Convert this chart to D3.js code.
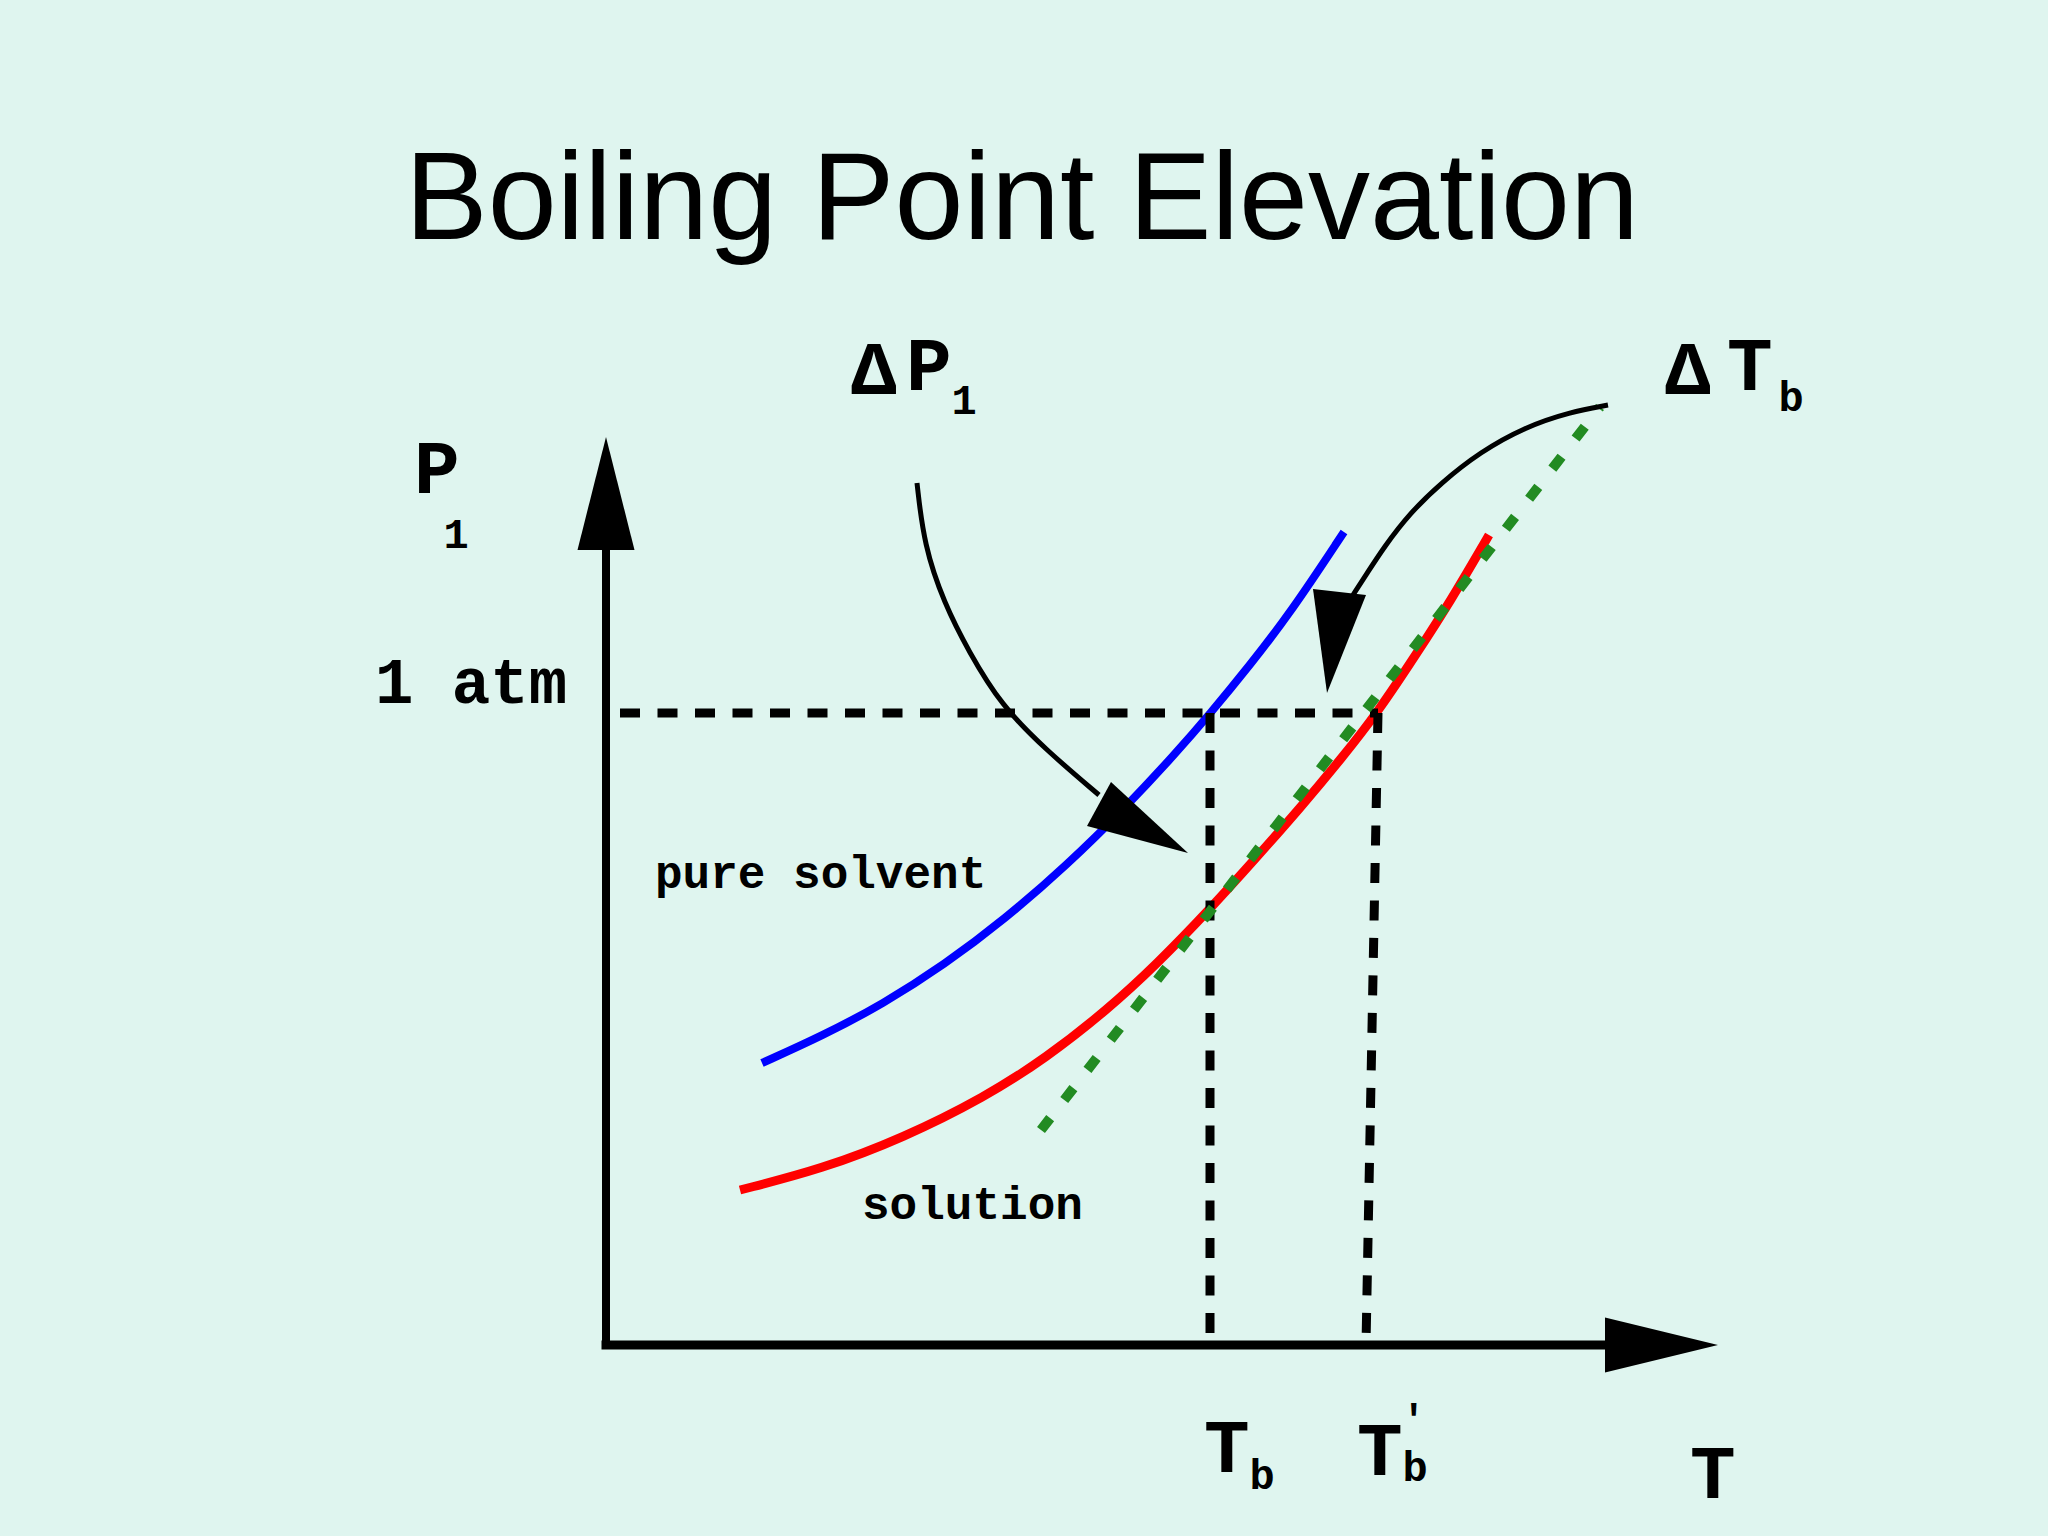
<!DOCTYPE html>
<html>
<head>
<meta charset="utf-8">
<script src="https://cdn.jsdelivr.net/npm/d3@7"></script>
<style>
  body { margin: 0; background: #dff5ef; }
  svg { display: block; }
  .lbl { font-family: "Liberation Mono", "DejaVu Sans Mono", monospace; font-weight: bold; fill: #000; }
</style>
</head>
<body>
<div id="chart"></div>
<script>
// --- Data: temperature (T) and vapour pressure (P) in arbitrary units ---
const pureSolventT = [15.6, 21.6, 27.7, 33.8, 39.9, 46.1, 52.0, 57.0, 60.3, 64.4, 68.5, 73.8];
const pureSolventP = [28.2, 30.9, 34.1, 38.0, 42.6, 48.0, 53.8, 59.2, 63.0, 68.0, 73.3, 81.3];

const solutionT = [13.4, 21.6, 29.7, 37.9, 44.0, 50.1, 55.0, 60.5, 65.0, 69.5, 73.5, 77.2, 81.1, 84.4, 88.3];
const solutionP = [15.5, 17.6, 20.7, 24.8, 28.7, 33.5, 38.0, 43.7, 48.7, 53.8, 58.6, 63.3, 69.2, 74.3, 81.0];

// green dotted guide along the solution curve
const tangentT = [43.5, 99.4];
const tangentP = [21.5, 93.8];

// reference levels
const oneAtm = 63.2;
const guideStartT = 1.4;
const boilT = 60.4;                 // T_b
const boilTPrime = [77.2, 76.0];    // T_b' guide (top, bottom)

// curved annotation arrows
const deltaPArrowT = [31.1, 31.8, 33.8, 36.3, 39.5, 44.0, 49.3];
const deltaPArrowP = [86.2, 80.0, 74.2, 69.3, 64.0, 59.5, 55.0];
const deltaPHeadT = [50.5, 48.1, 58.2];
const deltaPHeadP = [56.3, 51.9, 49.2];

const deltaTArrowT = [100.2, 96.4, 91.9, 87.4, 83.5, 80.4, 77.8, 76.0, 74.7];
const deltaTArrowP = [94.0, 93.3, 91.8, 89.3, 86.2, 83.2, 79.8, 77.0, 75.0];
const deltaTHeadT = [70.7, 76.0, 72.1];
const deltaTHeadP = [75.6, 75.0, 65.2];

// axis extents: line end and arrow tip
const yAxisEnd = [79.5, 90.8];
const xAxisEnd = [99.9, 111.2];

const width = 2048, height = 1536;

const svg = d3.select("#chart")
  .append("svg")
  .attr("width", width)
  .attr("height", height);

// Scales
const x = d3.scaleLinear().domain([0, 100]).range([606, 1606]);
const y = d3.scaleLinear().domain([0, 100]).range([1345, 345]);

const zip = (a, b) => a.map((v, i) => [v, b[i]]);

const line = d3.line()
  .x(d => x(d[0]))
  .y(d => y(d[1]))
  .curve(d3.curveBasis);

const straight = d3.line()
  .x(d => x(d[0]))
  .y(d => y(d[1]));

// Title
svg.append("text")
  .attr("x", 1022)
  .attr("y", 239)
  .attr("text-anchor", "middle")
  .style("font-family", "'Liberation Sans', Arial, sans-serif")
  .style("font-size", "124px")
  .text("Boiling Point Elevation");

// Axes with arrow heads
svg.append("path")
  .attr("d", straight([[0, 0], [0, yAxisEnd[0]]]))
  .attr("stroke", "#000")
  .attr("stroke-linecap", "square")
  .attr("stroke-width", 8);

svg.append("path")
  .attr("d", `M${x(0) - 28.5},${y(yAxisEnd[0])}L${x(0) + 28.5},${y(yAxisEnd[0])}L${x(0)},${y(yAxisEnd[1])}Z`)
  .attr("fill", "#000");

svg.append("path")
  .attr("d", straight([[0, 0], [xAxisEnd[0], 0]]))
  .attr("stroke", "#000")
  .attr("stroke-linecap", "square")
  .attr("stroke-width", 9);

svg.append("path")
  .attr("d", `M${x(xAxisEnd[0])},${y(0) - 27.5}L${x(xAxisEnd[0])},${y(0) + 27.5}L${x(xAxisEnd[1])},${y(0)}Z`)
  .attr("fill", "#000");

// Vapour pressure curves
svg.append("path")
  .attr("d", line(zip(pureSolventT, pureSolventP)))
  .attr("fill", "none")
  .attr("stroke", "#0000ff")
  .attr("stroke-width", 8);

svg.append("path")
  .attr("d", line(zip(solutionT, solutionP)))
  .attr("fill", "none")
  .attr("stroke", "#ff0000")
  .attr("stroke-width", 9);

// Dashed guides at 1 atm, T_b and T_b'
const guides = [
  [[guideStartT, oneAtm], [boilTPrime[0], oneAtm]],
  [[boilT, oneAtm], [boilT, 0]],
  [[boilTPrime[0], oneAtm], [boilTPrime[1], 0]]
];
svg.selectAll(".guide")
  .data(guides)
  .enter()
  .append("path")
  .attr("class", "guide")
  .attr("d", d => straight(d))
  .attr("stroke", "#000")
  .attr("stroke-width", 9)
  .attr("stroke-dasharray", "20 17.5");

// Green dotted line
svg.append("path")
  .attr("d", straight(zip(tangentT, tangentP)))
  .attr("stroke", "#228b22")
  .attr("stroke-width", 10)
  .attr("stroke-dasharray", "15 23");

// Curved arrows
[[deltaPArrowT, deltaPArrowP, deltaPHeadT, deltaPHeadP],
 [deltaTArrowT, deltaTArrowP, deltaTHeadT, deltaTHeadP]].forEach(a => {
  svg.append("path")
    .attr("d", line(zip(a[0], a[1])))
    .attr("fill", "none")
    .attr("stroke", "#000")
    .attr("stroke-width", 5);
  svg.append("path")
    .attr("d", straight(zip(a[2], a[3])) + "Z")
    .attr("fill", "#000");
});

// Labels: main text plus optional subscript / prime as tspans
function label(px, py, txt, size, sub, subDx, subDy, sup) {
  const t = svg.append("text")
    .attr("class", "lbl")
    .attr("x", px)
    .attr("y", py)
    .style("font-size", size + "px")
    .text(txt);
  if (sub) {
    t.append("tspan")
      .attr("dx", subDx)
      .attr("dy", subDy)
      .style("font-size", "42px")
      .text(sub);
  }
  if (sup) {
    t.append("tspan")
      .attr("dx", -26)
      .attr("dy", -48)
      .style("font-size", "40px")
      .text(sup);
  }
}

// P1 axis label
label(414, 493, "P", 76, "1", -16, 55);

// Delta P1 and Delta Tb
label(851, 394, "\u0394", 76);
label(906, 390, "P", 76, "1", 0, 24);
label(1665, 394, "\u0394", 76);
label(1727, 390, "T", 76, "b", 6, 21);

label(375, 703, "1 atm", 64);
label(655, 888, "pure solvent", 46);
label(862, 1219, "solution", 46);

// T axis labels
label(x(boilT) - 6, 1472, "T", 76, "b", 0, 17);
label(x(boilTPrime[1]) - 9, 1475, "T", 76, "b", 0, 6, "\u2032");
label(1690, 1498, "T", 76);
</script>
</body>
</html>
